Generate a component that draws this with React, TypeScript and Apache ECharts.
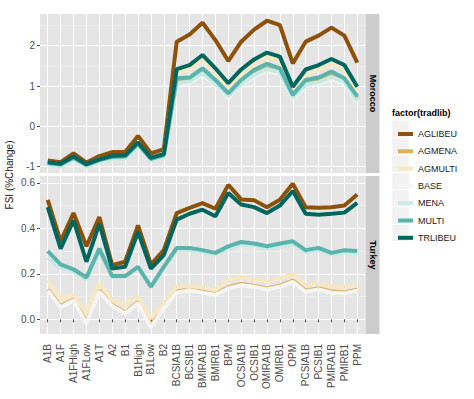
import React, { useEffect, useRef } from "react";
import * as echarts from "echarts";

const categories = ["A1B","A1F","A1FHigh","A1FLow","A1T","A2","B1","B1High","B1Low","B2","BCSIA1B","BCSIB1","BMIRA1B","BMIRB1","BPM","OCSIA1B","OCSIB1","OMIRA1B","OMIRB1","OPM","PCSIA1B","PCSIB1","PMIRA1B","PMIRB1","PPM"];
const seriesNames = ["AGLIBEU","AGMENA","AGMULTI","BASE","MENA","MULTI","TRLIBEU"];
const colors = ["#8C510A","#D8B365","#F6E8C3","#F5F5F5","#C7EAE5","#5AB4AC","#01665E"];

const moroccoTicks = [-1, 0, 1, 2];
const moroccoMinor = [-0.5, 0.5, 1.5, 2.5];
const turkeyTicks = [0, 0.2, 0.4, 0.6];
const turkeyMinor = [0.1, 0.3, 0.5];

// Morocco
const moroccoAGLIBEU = [-0.85,-0.89,-0.67,-0.90,-0.74,-0.64,-0.64,-0.24,-0.67,-0.57,2.10,2.28,2.57,2.14,1.62,2.10,2.40,2.62,2.51,1.56,2.10,2.25,2.45,2.25,1.58];
const moroccoAGMENA = [-0.92,-0.96,-0.79,-0.97,-0.85,-0.77,-0.76,-0.45,-0.82,-0.73,1.15,1.18,1.40,1.12,0.80,1.12,1.36,1.50,1.41,0.75,1.12,1.18,1.32,1.16,0.70];
const moroccoAGMULTI = [-0.90,-0.94,-0.77,-0.95,-0.83,-0.75,-0.74,-0.42,-0.80,-0.71,1.33,1.40,1.65,1.33,0.98,1.30,1.55,1.72,1.62,0.90,1.30,1.40,1.55,1.42,0.88];
const moroccoBASE = [-0.93,-0.97,-0.80,-0.98,-0.86,-0.78,-0.77,-0.46,-0.83,-0.74,1.03,1.08,1.28,1.02,0.72,1.02,1.24,1.38,1.30,0.67,1.00,1.06,1.18,1.06,0.60];
const moroccoMENA = [-0.95,-0.99,-0.82,-1.00,-0.88,-0.80,-0.79,-0.48,-0.85,-0.76,1.06,1.11,1.32,1.05,0.75,1.05,1.27,1.42,1.34,0.70,1.03,1.09,1.22,1.10,0.63];
const moroccoMULTI = [-0.91,-0.95,-0.78,-0.96,-0.84,-0.76,-0.75,-0.43,-0.81,-0.72,1.19,1.21,1.44,1.15,0.82,1.15,1.40,1.55,1.44,0.78,1.15,1.21,1.36,1.19,0.74];
const moroccoTRLIBEU = [-0.89,-0.93,-0.75,-0.94,-0.82,-0.73,-0.72,-0.40,-0.78,-0.69,1.42,1.52,1.77,1.44,1.07,1.41,1.66,1.83,1.73,0.98,1.41,1.52,1.67,1.52,0.98];

// Turkey
const turkeyAGLIBEU = [0.525,0.343,0.467,0.321,0.45,0.238,0.253,0.413,0.241,0.304,0.467,0.49,0.511,0.486,0.591,0.527,0.523,0.493,0.526,0.596,0.493,0.49,0.493,0.50,0.549];
const turkeyAGMENA = [0.13,0.058,0.087,-0.012,0.126,0.063,0.03,0.075,-0.025,0.052,0.122,0.133,0.122,0.112,0.141,0.155,0.148,0.136,0.148,0.17,0.126,0.136,0.122,0.118,0.13];
const turkeyAGMULTI = [0.172,0.09,0.107,0.026,0.158,0.085,0.063,0.10,0.004,0.07,0.143,0.146,0.14,0.128,0.172,0.187,0.175,0.165,0.18,0.20,0.15,0.158,0.143,0.143,0.15];
const turkeyBASE = [0.126,0.053,0.082,-0.018,0.121,0.058,0.026,0.07,-0.035,0.048,0.117,0.128,0.117,0.107,0.136,0.15,0.143,0.131,0.143,0.165,0.121,0.131,0.117,0.114,0.126];
const turkeyMENA = [0.27,0.23,0.21,0.175,0.30,0.185,0.185,0.225,0.14,0.225,0.305,0.305,0.295,0.285,0.31,0.33,0.325,0.31,0.32,0.33,0.295,0.305,0.285,0.295,0.29];
const turkeyMULTI = [0.30,0.241,0.22,0.184,0.311,0.19,0.19,0.231,0.143,0.231,0.314,0.314,0.304,0.292,0.321,0.34,0.333,0.321,0.333,0.343,0.304,0.314,0.292,0.304,0.30];
const turkeyTRLIBEU = [0.493,0.311,0.435,0.253,0.42,0.223,0.231,0.384,0.223,0.282,0.438,0.464,0.482,0.453,0.555,0.505,0.493,0.467,0.50,0.564,0.464,0.46,0.464,0.469,0.512];

const moroccoData = [moroccoAGLIBEU, moroccoAGMENA, moroccoAGMULTI, moroccoBASE, moroccoMENA, moroccoMULTI, moroccoTRLIBEU];
const turkeyData = [turkeyAGLIBEU, turkeyAGMENA, turkeyAGMULTI, turkeyBASE, turkeyMENA, turkeyMULTI, turkeyTRLIBEU];

const FONT = "Liberation Sans, Arial, sans-serif";
const catIdx = categories.map((_, i) => i);

export default function App() {
  const ref = useRef<HTMLDivElement>(null);
  useEffect(() => {
    if (!ref.current) return;
    const chart = echarts.init(ref.current, null, { renderer: "svg" });

    const grids = [
      { left: 40, top: 14, width: 325, height: 159 },
      { left: 40, top: 176, width: 325, height: 158 },
    ];

    const xAxes = [0, 1].map((g) => ({
      type: "value",
      gridIndex: g,
      min: -0.6,
      max: 24.6,
      axisLine: { show: false },
      axisTick: {
        show: g === 1,
        customValues: catIdx,
        length: 3,
        lineStyle: { color: "#4d4d4d", width: 1 },
      },
      axisLabel: {
        show: g === 1,
        customValues: catIdx,
        formatter: (v: number) => categories[Math.round(v)] ?? "",
        rotate: 90,
        fontSize: 10,
        color: "#4d4d4d",
        fontFamily: FONT,
        margin: 10,
      },
      splitLine: { show: true, lineStyle: { color: "#ffffff", width: 1 } },
    }));

    const mkY = (g: number, min: number, max: number, major: number[], minor: number[], fmt: (v: number) => string) => [
      {
        type: "value",
        gridIndex: g,
        position: "left",
        min,
        max,
        axisLine: { show: false },
        axisTick: { show: false, customValues: minor },
        axisLabel: { show: false, customValues: minor },
        splitLine: { show: true, lineStyle: { color: "#F2F2F2", width: 0.6 } },
      },
      {
        type: "value",
        gridIndex: g,
        position: "left",
        min,
        max,
        axisLine: { show: false },
        axisTick: { show: true, customValues: major, length: 3, lineStyle: { color: "#4d4d4d" } },
        axisLabel: { customValues: major, formatter: fmt, fontSize: 10, color: "#4d4d4d", fontFamily: FONT, margin: 5 },
        splitLine: { show: true, lineStyle: { color: "#ffffff", width: 1 } },
      },
    ];

    const yAxes = [
      ...mkY(0, -1.159, 2.787, moroccoTicks, moroccoMinor, (v) => String(Math.round(v))),
      ...mkY(1, -0.0646, 0.63, turkeyTicks, turkeyMinor, (v) => v.toFixed(1)),
    ];

    const series: any[] = [];
    [moroccoData, turkeyData].forEach((panel, p) => {
      panel.forEach((vals, k) => {
        series.push({
          type: "line",
          name: seriesNames[k],
          xAxisIndex: p,
          yAxisIndex: p === 0 ? 1 : 3,
          data: vals.map((v, i) => [i, v]),
          showSymbol: false,
          symbol: "none",
          lineStyle: { color: colors[k], width: 4 },
          itemStyle: { color: colors[k] },
          silent: true,
        });
      });
    });

    const legendTop = 123;
    const rowH = 17.3;
    const keyBoxes = seriesNames.map((_, k) => ({
      type: "rect",
      shape: { x: 392, y: legendTop + 6 - 8.5 + k * rowH, width: 17, height: 17 },
      style: { fill: "#F2F2F2", stroke: "#ffffff", lineWidth: 0.5 },
      z: -1,
    }));

    chart.setOption({
      animation: false,
      grid: grids.map((g) => ({ ...g, show: true, backgroundColor: "#E5E5E5", borderWidth: 0, containLabel: false })),
      xAxis: xAxes,
      yAxis: yAxes,
      series,
      legend: {
        orient: "vertical",
        left: 393,
        top: legendTop,
        itemWidth: 15,
        itemHeight: 4,
        itemGap: 5.3,
        icon: "rect",
        data: seriesNames,
        selectedMode: false,
        textStyle: { fontSize: 9, color: "#1a1a1a", fontFamily: FONT, lineHeight: 12 },
      },
      graphic: [
        ...keyBoxes,
        {
          type: "text",
          x: 392,
          y: 113,
          style: { text: "factor(tradlib)", fontSize: 9, fontWeight: "bold", fill: "#000", fontFamily: FONT, align: "left", verticalAlign: "middle" },
        },
        { type: "rect", shape: { x: 365.5, y: 14, width: 14, height: 159 }, style: { fill: "#CCCCCC" } },
        { type: "rect", shape: { x: 365.5, y: 176, width: 14, height: 158 }, style: { fill: "#CCCCCC" } },
        {
          type: "text",
          x: 372.5,
          y: 93.5,
          rotation: -Math.PI / 2,
          style: { text: "Morocco", fontSize: 9, fontWeight: "bold", fill: "#000", fontFamily: FONT, align: "center", verticalAlign: "middle" },
        },
        {
          type: "text",
          x: 372.5,
          y: 255,
          rotation: -Math.PI / 2,
          style: { text: "Turkey", fontSize: 9, fontWeight: "bold", fill: "#000", fontFamily: FONT, align: "center", verticalAlign: "middle" },
        },
        {
          type: "text",
          x: 9,
          y: 175,
          rotation: Math.PI / 2,
          style: { text: "FSI (%Change)", fontSize: 10, fill: "#1a1a1a", fontFamily: FONT, align: "center", verticalAlign: "middle" },
        },
      ],
    });
    return () => chart.dispose();
  }, []);
  return <div ref={ref} style={{ position: "absolute", left: 0, top: 0, width: 474, height: 399 }} />;
}
